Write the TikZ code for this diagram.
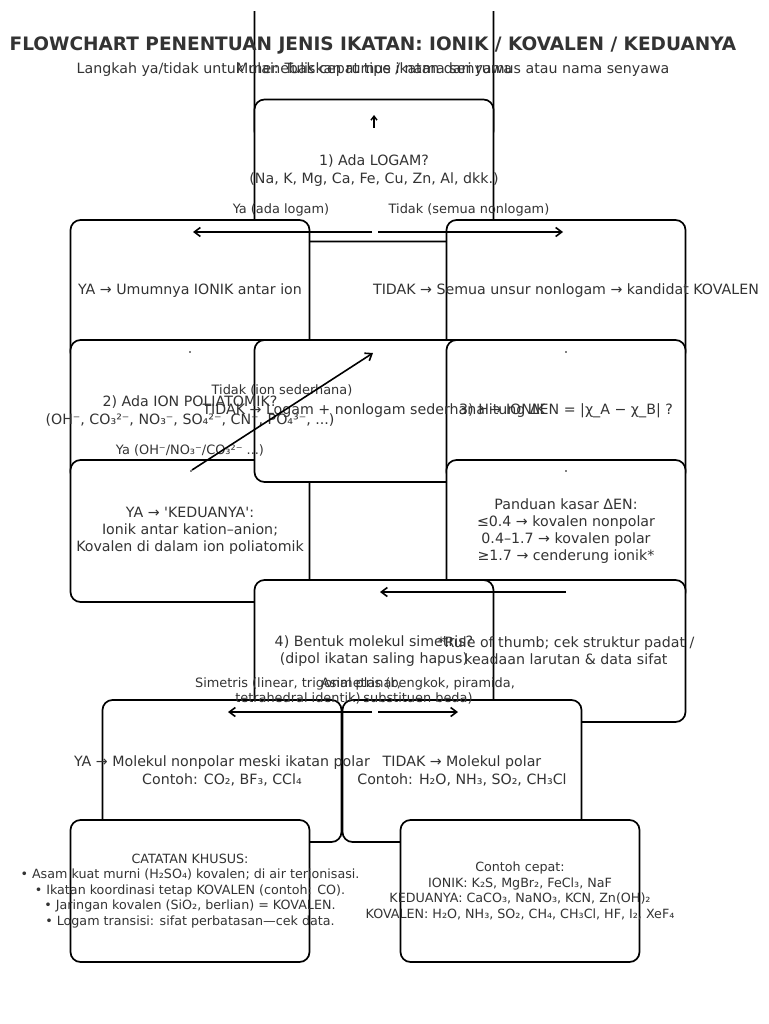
\documentclass[tikz,border=0pt]{standalone}
\usepackage{fontspec}
\setmainfont{DejaVu Sans}
\usetikzlibrary{arrows.meta}
\definecolor{txt}{RGB}{51,51,51}
\font\dvq="DejaVu Sans" at 14.2pt
\newcommand{\sq}{{\dvq\char"27}}
\begin{document}
\begin{tikzpicture}[x=1pt,y=-1pt,
  box/.style={draw=black,fill=white,line width=1.7pt,rounded corners=10pt,
    minimum width=239pt,minimum height=142pt,inner sep=0pt},
  lbl/.style={align=center,text=txt,inner sep=0pt,font=\fontsize{14.2}{17.2}\selectfont},
  small/.style={align=center,text=txt,inner sep=0pt,font=\fontsize{12.7}{15.5}\selectfont},
  elbl/.style={align=center,text=txt,inner sep=0pt,font=\fontsize{12.9}{15.2}\selectfont},
  arr/.style={draw=black,line width=1.6pt,-{Straight Barb[length=6pt,width=9pt]}},
  dotm/.style={fill=black,circle,inner sep=0pt,minimum size=1.8pt},
]
\useasboundingbox (0,0) rectangle (768,1024);
\fill[white] (0,0) rectangle (768,1024);
% ---------- boxes (in drawing order) ----------
\begin{scope}
\clip (0,12) rectangle (768,1024);
\node[box] (bS) at (374,70) {};
\end{scope}
\node[box] (bQ1) at (374,170.5) {};
\node[box] (bYA1) at (190,291) {};
\node[box] (bTD1) at (566,291) {};
\node[box] (bQ2) at (190,411) {};
\node[box] (bYA2) at (190,531) {};
\node[box] (bTD2) at (374,411) {};
\node[box] (bQ3) at (566,411) {};
\node[box] (bPD) at (566,531) {};
\node[box] (bRT) at (566,651) {};
\node[box] (bQ4) at (374,651) {};
\node[box] (bYA4) at (222,771) {};
\node[box] (bTD4) at (462,771) {};
\node[box] (bCT) at (190,891) {};
\node[box] (bCC) at (520,891) {};
% ---------- title ----------
\node[font=\bfseries\fontsize{18.5}{22}\selectfont,text=txt,inner sep=0pt] (title) at (373,45)
  {FLOWCHART PENENTUAN JENIS IKATAN: IONIK / KOVALEN / KEDUANYA};
\node[lbl] (sub) at (373,70)
  {Langkah ya/tidak untuk menebak cepat tipe ikatan dari rumus atau nama senyawa};
% ---------- box texts ----------
\node[lbl] (tS) at (bS) {Mulai: Tuliskan rumus / nama senyawa};
\node[lbl] (tQ1) at (bQ1) {1) Ada LOGAM?\\(Na, K, Mg, Ca, Fe, Cu, Zn, Al, dkk.)};
\node[lbl] (tYA1) at (bYA1) {YA → Umumnya IONIK antar ion};
\node[lbl] (tTD1) at (bTD1) {TIDAK → Semua unsur nonlogam → kandidat KOVALEN};
\node[lbl] (tQ2) at (bQ2) {2) Ada ION POLIATOMIK?\\(OH⁻, CO₃²⁻, NO₃⁻, SO₄²⁻, CN⁻, PO₄³⁻, ...)};
\node[lbl] (tTD2) at (bTD2) {TIDAK → Logam + nonlogam sederhana → IONIK};
\node[lbl] (tQ3) at (bQ3) {3) Hitung ΔEN = |χ\_A − χ\_B| ?};
\node[lbl] (tYA2) at (bYA2) {YA → \sq KEDUANYA\sq:\\Ionik antar kation–anion;\\Kovalen di dalam ion poliatomik};
\node[lbl] (tPD) at (bPD) {Panduan kasar ΔEN:\\≤0.4 → kovalen nonpolar\\0.4–1.7 → kovalen polar\\≥1.7 → cenderung ionik*};
\node[lbl] (tQ4) at (bQ4) {4) Bentuk molekul simetris?\\(dipol ikatan saling hapus)};
\node[lbl] (tRT) at (bRT) {*Rule of thumb; cek struktur padat /\\keadaan larutan \& data sifat};
\node[lbl] (tYA4) at (bYA4) {YA → Molekul nonpolar meski ikatan polar\\Contoh: CO₂, BF₃, CCl₄};
\node[lbl] (tTD4) at (bTD4) {TIDAK → Molekul polar\\Contoh: H₂O, NH₃, SO₂, CH₃Cl};
\node[small] (tCT) at (bCT) {CATATAN KHUSUS:\\• Asam kuat murni (H₂SO₄) kovalen; di air terionisasi.\\• Ikatan koordinasi tetap KOVALEN (contoh: CO).\\• Jaringan kovalen (SiO₂, berlian) = KOVALEN.\\• Logam transisi: sifat perbatasan—cek data.};
\node[small] (tCC) at (bCC) {Contoh cepat:\\IONIK: K₂S, MgBr₂, FeCl₃, NaF\\KEDUANYA: CaCO₃, NaNO₃, KCN, Zn(OH)₂\\KOVALEN: H₂O, NH₃, SO₂, CH₄, CH₃Cl, HF, I₂, XeF₄};
% ---------- edge labels ----------
\node[elbl] (l1) at (281,210) {Ya (ada logam)};
\node[elbl] (l2) at (469,210) {Tidak (semua nonlogam)};
\node[elbl] (l3) at (282,390) {Tidak (ion sederhana)};
\node[elbl] (l4) at (190,450) {Ya (OH⁻/NO₃⁻/CO₃²⁻ ...)};
\node[elbl] (l5) at (298,691) {Simetris (linear, trigonal planar,\\tetrahedral identik)};
\node[elbl] (l6) at (418,691) {Asimetris (bengkok, piramida,\\substituen beda)};
% ---------- connectors ----------
\coordinate (a0s) at (374,128); \coordinate (a0e) at (374,115);
\coordinate (a1s) at (372,232); \coordinate (a1e) at (193,232);
\coordinate (a2s) at (378,232); \coordinate (a2e) at (563,232);
\coordinate (a3s) at (192,470); \coordinate (a3e) at (373,353);
\coordinate (a4s) at (566,592); \coordinate (a4e) at (380,592);
\coordinate (a5s) at (372,712); \coordinate (a5e) at (228,712);
\coordinate (a6s) at (378,712); \coordinate (a6e) at (458,712);
\draw[draw=black,line width=1.4pt,-{Straight Barb[length=4pt,width=6pt]}] (a0s) -- (a0e);
\draw[arr] (a1s) -- (a1e);
\draw[arr] (a2s) -- (a2e);
\draw[arr] (a3s) -- (a3e);
\draw[arr] (a4s) -- (a4e);
\draw[arr] (a5s) -- (a5e);
\draw[arr] (a6s) -- (a6e);
\node[dotm] (d1) at (190,352) {};
\node[dotm] (d2) at (566,352) {};
\node[dotm] (d3) at (191,471) {};
\node[dotm] (d4) at (566,471) {};
\end{tikzpicture}
\end{document}
